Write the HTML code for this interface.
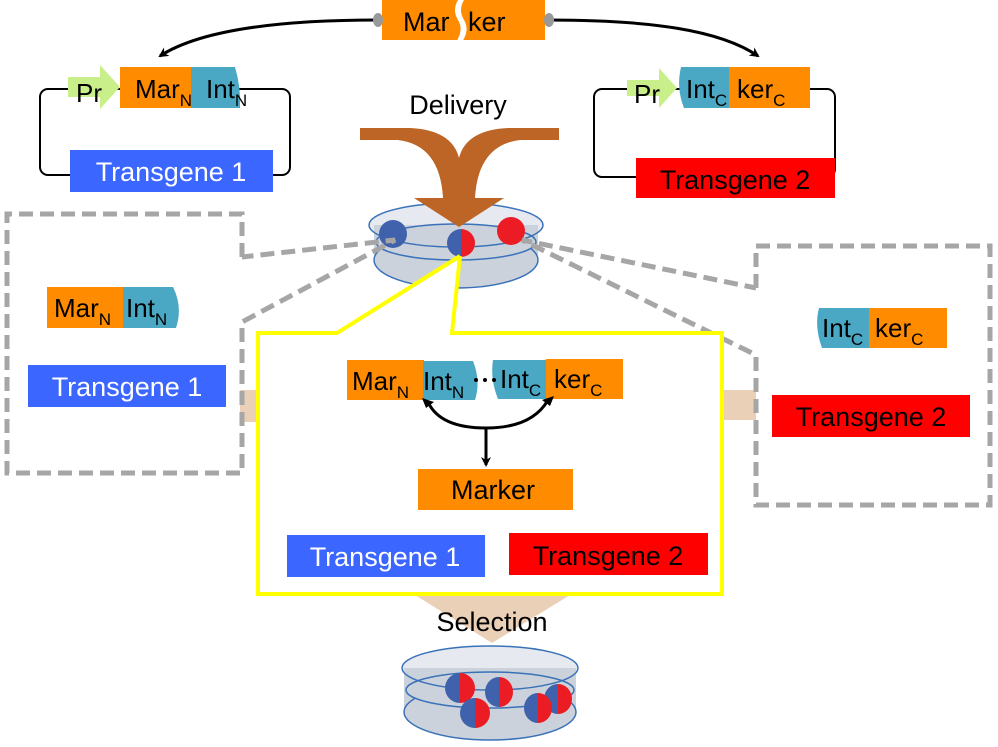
<!DOCTYPE html>
<html><head><style>body{margin:0;background:#fff}svg{display:block}text{font-family:"Liberation Sans",sans-serif}</style></head><body>
<svg width="998" height="747" viewBox="0 0 998 747">
<defs><marker id="ah" markerWidth="10" markerHeight="10" refX="8" refY="5" orient="auto" markerUnits="userSpaceOnUse"><path d="M0,0 L10,5 L0,10 L3,5z" fill="#000"/></marker></defs>
<!-- top marker -->
<path d="M378,20 C280,20 200,30 160,56" stroke="#000" stroke-width="3" fill="none" marker-end="url(#ah)"/>
<path d="M548,20 C650,20 720,30 758,56" stroke="#000" stroke-width="3" fill="none" marker-end="url(#ah)"/>
<rect x="382" y="0" width="163" height="40" fill="#ff8c00"/>
<path d="M458,0 q-6,10 0,20 q6,10 -2,22 h6 q8,-12 2,-22 q-6,-10 0,-20z" fill="#fff"/>
<ellipse cx="378" cy="20" rx="5" ry="7" fill="#999"/><ellipse cx="549" cy="20" rx="5" ry="7" fill="#999"/>
<text x="403" y="31" font-size="27">Mar</text><text x="468" y="31" font-size="27">ker</text>
<!-- left plasmid -->
<rect x="40" y="89" width="250" height="86" rx="8" fill="none" stroke="#000" stroke-width="2"/>
<path d="M68,77 h32 v-12 l20,22 l-20,22 v-12 h-32z" fill="#c8ef8a"/>
<text x="76" y="102" font-size="26">Pr</text>
<rect x="120" y="67" width="71" height="41" fill="#ff8c00"/>
<path d="M191,67 h44 q6,20 5,41 h-49z" fill="#4aa8c4"/>
<text x="135" y="98" font-size="26">Mar<tspan font-size="17" dy="8">N</tspan></text>
<text x="206" y="98" font-size="26">Int<tspan font-size="17" dy="8">N</tspan></text>
<rect x="70" y="150" width="203" height="42" fill="#3b66ff"/>
<text x="171" y="181" font-size="27" fill="#fff" text-anchor="middle">Transgene 1</text>
<!-- right plasmid -->
<rect x="594" y="89" width="241" height="88" rx="8" fill="none" stroke="#000" stroke-width="2"/>
<path d="M627,80 h32 v-12 l18,20 l-18,20 v-12 h-32z" fill="#c8ef8a"/>
<text x="634" y="103" font-size="26">Pr</text>
<path d="M681,67 h48 v41 h-45 q-8,-20 -3,-41z" fill="#4aa8c4"/>
<rect x="729" y="67" width="81" height="41" fill="#ff8c00"/>
<text x="686" y="98" font-size="26">Int<tspan font-size="17" dy="8">C</tspan></text>
<text x="737" y="98" font-size="26">ker<tspan font-size="17" dy="8">C</tspan></text>
<rect x="636" y="158" width="199" height="40" fill="#ff0000"/>
<text x="735" y="189" font-size="27" text-anchor="middle">Transgene 2</text>
<!-- delivery -->
<text x="458" y="114" font-size="27" text-anchor="middle">Delivery</text>
<!-- peach bands -->
<rect x="240" y="390" width="20" height="32" fill="#ebd0b8"/>
<rect x="722" y="390" width="34" height="30" fill="#ebd0b8"/>
<path d="M415,595 h155 l-78,48z" fill="#ebd0b8"/>
<!-- dish -->
<ellipse cx="456" cy="225" rx="87" ry="22" fill="#e6e9ef"/>
<path d="M374,225 V260 A82,28 0 0 0 538,260 V225z" fill="#ccd2dc"/>
<ellipse cx="456" cy="260" rx="82" ry="28" fill="#ccd2dc" stroke="#3a72b8" stroke-width="1.5"/>
<ellipse cx="456" cy="242" rx="80" ry="18" fill="#ccd2dc" stroke="#3a72b8" stroke-width="1.5"/>
<ellipse cx="456" cy="225" rx="87" ry="22" fill="none" stroke="#3a72b8" stroke-width="1.5"/>
<path d="M360,128 H410 Q452,130 459,158 Q466,130 508,128 H559 V140 H520 Q478,145 475,198 H504 L459,227 L414,198 H443 Q440,145 398,140 H360 Z" fill="#bd6526"/>
<circle cx="393" cy="234" r="14" fill="#4062ac"/>
<circle cx="511" cy="231" r="14" fill="#ec1c24"/>
<path d="M461,229 a14,14 0 0 0 0,28z" fill="#4062ac"/><path d="M461,229 a14,14 0 0 1 0,28z" fill="#ec1c24"/>
<!-- left dashed -->
<path d="M242,257 V214 H7 V473 H242 V322 L395,240 L242,257" fill="none" stroke="#a6a6a6" stroke-width="5" stroke-dasharray="14,7"/>
<rect x="47" y="287" width="78" height="41" fill="#ff8c00"/>
<path d="M123,287 h50 q10,20 3,41 h-53z" fill="#4aa8c4"/>
<text x="54" y="317" font-size="26">Mar<tspan font-size="17" dy="8">N</tspan></text>
<text x="126" y="317" font-size="26">Int<tspan font-size="17" dy="8">N</tspan></text>
<rect x="28" y="365" width="198" height="42" fill="#3b66ff"/>
<text x="127" y="396" font-size="27" fill="#fff" text-anchor="middle">Transgene 1</text>
<!-- right dashed -->
<path d="M756,288 V246 H990 V505 H756 V355 L522,240 L756,288" fill="none" stroke="#a6a6a6" stroke-width="5" stroke-dasharray="14,7"/>
<path d="M819,308 h50 v40 h-47 q-8,-22 -3,-40z" fill="#4aa8c4"/>
<rect x="869" y="308" width="78" height="40" fill="#ff8c00"/>
<text x="822" y="337" font-size="26">Int<tspan font-size="17" dy="8">C</tspan></text>
<text x="875" y="337" font-size="26">ker<tspan font-size="17" dy="8">C</tspan></text>
<rect x="772" y="395" width="198" height="42" fill="#ff0000"/>
<text x="871" y="426" font-size="27" text-anchor="middle">Transgene 2</text>
<!-- yellow -->
<path d="M460,256 L337,333 H258 V594 H722 V333 H452 L460,256" fill="#fff" stroke="#ffff00" stroke-width="4"/>
<rect x="347" y="360" width="77" height="40" fill="#ff8c00"/>
<path d="M423,361 h50 q8,20 2,39 h-52z" fill="#4aa8c4"/>
<path d="M493,360 h53 v39 h-48 q-8,-20 -5,-39z" fill="#4aa8c4"/>
<rect x="546" y="359" width="77" height="40" fill="#ff8c00"/>
<text x="352" y="390" font-size="26">Mar<tspan font-size="17" dy="8">N</tspan></text>
<text x="423" y="390" font-size="26">Int<tspan font-size="17" dy="8">N</tspan></text>
<circle cx="476" cy="380" r="2" fill="#000"/><circle cx="485" cy="380" r="2" fill="#000"/><circle cx="494" cy="380" r="2" fill="#000"/>
<text x="500" y="388" font-size="26">Int<tspan font-size="17" dy="8">C</tspan></text>
<text x="554" y="388" font-size="26">ker<tspan font-size="17" dy="8">C</tspan></text>
<path d="M428,402 Q440,428 486,428 Q532,428 548,400" fill="none" stroke="#000" stroke-width="3"/>
<path d="M422,398 l12,4 l-8,6z M554,396 l-12,4 l8,6z" fill="#000"/>
<path d="M486,428 V465" stroke="#000" stroke-width="3" marker-end="url(#ah)"/>
<rect x="418" y="469" width="155" height="41" fill="#ff8c00"/>
<text x="493" y="499" font-size="27" text-anchor="middle">Marker</text>
<rect x="287" y="535" width="198" height="42" fill="#3b66ff"/>
<text x="385" y="566" font-size="27" fill="#fff" text-anchor="middle">Transgene 1</text>
<rect x="509" y="533" width="199" height="42" fill="#ff0000"/>
<text x="608" y="565" font-size="27" text-anchor="middle">Transgene 2</text>
<!-- selection -->
<text x="492" y="631" font-size="27" text-anchor="middle">Selection</text>
<ellipse cx="490" cy="668" rx="88" ry="22" fill="#e6e9ef"/>
<path d="M404,668 V712 A86,28 0 0 0 576,712 V668z" fill="#ccd2dc"/>
<ellipse cx="490" cy="712" rx="86" ry="28" fill="#ccd2dc" stroke="#3a72b8" stroke-width="1.5"/>
<ellipse cx="490" cy="690" rx="84" ry="18" fill="#ccd2dc" stroke="#3a72b8" stroke-width="1.5"/>
<ellipse cx="490" cy="668" rx="88" ry="22" fill="none" stroke="#3a72b8" stroke-width="1.5"/>
<g>
<path d="M460,673 a15,15 0 0 0 0,30z" fill="#4062ac"/><path d="M460,673 a15,15 0 0 1 0,30z" fill="#ec1c24"/>
<path d="M499,677 a14,15 0 0 0 0,30z" fill="#4062ac"/><path d="M499,677 a14,15 0 0 1 0,30z" fill="#ec1c24"/>
<path d="M475,698 a15,15 0 0 0 0,30z" fill="#4062ac"/><path d="M475,698 a15,15 0 0 1 0,30z" fill="#ec1c24"/>
<path d="M558,684 a14,15 0 0 0 0,30z" fill="#4062ac"/><path d="M558,684 a14,15 0 0 1 0,30z" fill="#ec1c24"/>
<path d="M538,693 a14,15 0 0 0 0,30z" fill="#4062ac"/><path d="M538,693 a14,15 0 0 1 0,30z" fill="#ec1c24"/>
</g>
</svg>
</body></html>
